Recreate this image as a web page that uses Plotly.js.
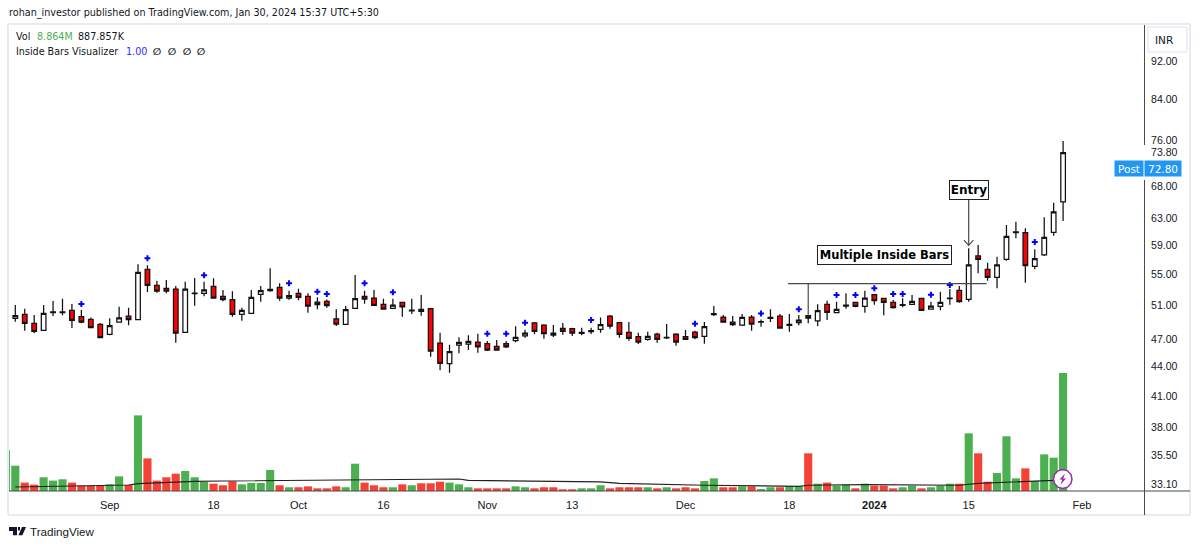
<!DOCTYPE html>
<html><head><meta charset="utf-8">
<script src="https://cdn.plot.ly/plotly-3.0.1.min.js"></script>
<style>html,body{margin:0;padding:0;background:#fff}#c{width:1200px;height:547px}</style>
</head><body><div id="c"></div>
<script>
const openP=[45.09,49.46,49.94,48.88,48.05,50.15,50.15,50.43,49.66,49.33,48.75,47.59,49.0,49.74,49.3,55.68,53.57,53.18,53.09,47.82,52.5,52.55,53.44,52.17,51.74,49.94,50.07,52.42,52.88,53.31,51.95,52.55,52.17,51.43,51.54,49.41,48.75,50.67,52.17,51.95,51.17,50.67,51.41,50.35,50.55,50.63,46.6,44.33,46.37,46.48,46.71,46.52,46.23,46.52,46.86,47.4,48.91,48.67,47.74,48.29,48.24,47.71,47.89,48.17,49.74,48.95,47.82,47.32,47.02,47.62,47.17,47.62,47.32,47.85,47.36,49.9,49.62,49.0,48.67,49.62,49.0,49.45,49.74,48.63,48.95,49.78,49.17,51.17,50.15,50.96,51.41,50.92,52.38,51.91,51.41,51.04,51.17,51.91,50.59,50.92,51.87,52.92,51.78,57.51,55.68,54.62,57.05,60.84,60.84,56.09,57.65,60.9,65.52];
const highP=[49.06,51.08,50.63,49.86,51.08,51.58,51.87,51.2,50.47,49.57,48.91,49.46,50.88,50.75,56.37,56.23,54.17,54.26,53.48,54.04,54.52,54.04,54.48,52.97,52.8,50.75,52.97,53.48,55.83,53.83,52.88,53.14,52.55,52.04,51.78,50.55,50.96,54.92,52.88,52.97,51.87,51.87,51.49,51.87,52.33,50.67,47.78,46.41,47.25,47.47,47.66,46.83,46.94,46.83,48.52,48.13,49.02,48.75,48.67,48.91,48.36,48.36,48.36,49.57,49.86,49.06,49.02,47.78,47.89,47.78,48.79,47.71,48.09,48.01,49.02,50.96,49.86,49.74,49.98,49.86,49.33,50.55,49.98,49.98,49.86,49.86,51.17,51.62,51.49,52.55,51.46,52.88,52.46,51.95,51.7,51.91,52.33,51.99,51.49,52.76,53.09,53.48,58.58,59.06,56.58,57.41,61.98,62.47,61.49,58.44,63.14,65.41,75.93];
const lowP=[45.09,49.06,48.01,47.71,47.98,49.74,49.82,48.32,48.88,48.29,47.13,47.47,48.95,48.63,49.25,52.71,52.63,52.55,46.63,47.78,51.0,52.17,51.87,51.54,49.66,49.17,50.03,51.49,52.76,51.62,51.74,51.66,50.15,50.55,50.75,48.55,48.72,50.63,51.24,51.0,50.55,50.59,49.66,49.98,49.78,45.08,43.63,43.37,45.45,45.82,45.52,45.71,45.74,46.03,46.68,47.2,47.59,47.09,47.28,47.55,47.4,47.47,47.62,47.78,48.24,47.2,46.86,46.48,46.86,46.63,47.05,46.29,46.98,47.02,46.52,49.74,48.95,48.55,48.55,48.01,48.47,49.02,48.24,47.89,48.63,48.88,48.55,49.26,50.12,50.63,50.8,50.15,51.12,49.82,50.63,50.8,51.12,50.39,50.55,50.43,51.12,51.37,51.49,55.15,54.17,53.18,56.86,60.02,53.92,55.68,57.51,60.4,62.58];
const closeP=[49.06,49.78,48.88,47.93,50.07,50.23,50.23,49.22,49.0,48.36,47.2,48.59,49.53,49.3,55.28,53.57,52.84,52.84,47.74,53.09,52.58,52.97,51.95,51.74,49.94,50.43,52.04,52.88,53.05,51.95,52.25,52.04,50.96,51.12,51.0,48.79,50.51,51.87,51.83,51.04,50.59,51.08,50.84,50.47,50.31,45.71,44.37,45.64,46.68,46.8,46.18,45.82,45.82,46.18,47.25,47.74,47.93,47.66,47.51,47.93,47.74,47.82,48.01,48.71,48.55,47.59,47.13,46.71,47.36,47.02,47.25,46.71,47.02,47.2,48.47,50.03,49.0,48.71,49.57,48.79,49.06,49.57,48.32,48.75,49.26,49.5,50.39,50.19,50.55,51.08,50.92,51.95,51.62,51.41,50.75,51.12,51.54,50.43,50.96,51.41,51.95,51.49,56.27,57.05,54.62,56.27,60.31,60.94,56.17,57.15,60.16,63.96,73.8];
const volumeM=[3.06,1.90,.63,.48,1.03,.78,.88,.63,.40,.40,.40,.50,1.10,.45,5.68,2.45,.78,1.03,1.30,1.50,1.03,.68,.55,.43,.73,.50,.60,.60,1.58,.43,.28,.28,.35,.20,.20,.35,.28,2.05,.63,.43,.28,.28,.50,.43,.58,.58,.70,.63,.50,.28,.20,.20,.20,.20,.35,.28,.20,.28,.28,.13,.13,.20,.20,.43,.20,.28,.28,.28,.28,.20,.28,.20,.28,.20,.75,.95,.28,.28,.35,.35,.15,.28,.28,.35,.35,2.83,.55,.63,.40,.48,.20,.55,.40,.40,.20,.28,.40,.20,.28,.40,.55,.55,4.33,2.83,.70,1.35,4.11,.95,1.70,.75,2.75,2.50,8.864];
const volMaIdx=[0,5,10,12,13,16,19,22,30,41,47,48,55,62,64,73,83,84,90,100,102,110,111];
const volMaVal=[.30,.35,.40,.45,.55,.65,.72,.75,.80,.85,.90,.80,.75,.68,.58,.43,.35,.43,.48,.43,.58,.80,.888];
const insideIdx=[7,14,20,29,32,33,37,40,50,52,54,61,72,79,83,87,89,91,93,94,97,99,108];
const insideP=[51.2,57.18,54.88,53.83,52.76,52.46,53.83,52.68,47.66,47.66,48.95,49.26,48.83,50.03,50.55,52.33,52.33,53.2,52.46,52.46,52.37,53.6,59.49];
const priceTicks=[92,84,76,73.8,68,63,59,55,51,47,44,41,38,35.5,33.1];
const priceTickText=["92.00","84.00","76.00","73.80","68.00","63.00","59.00","55.00","51.00","47.00","44.00","41.00","38.00","35.50","33.10"];
const timeTicks=[10,21,30,39,50,59,71,82,91,101,113];
const timeTickText=["Sep","18","Oct","16","Nov","13","Dec","18","<b>2024</b>","15","Feb"];
const idx=openP.map((_,i)=>i-1);
const volColor=openP.map((o,i)=>closeP[i]>=o?"#4caf50":"#f44336");
volColor[108+1]="#4caf50";

const L=9,R=1144,T=25,B=491;
const px=x=>(x-L)/(R-L), py=y=>(B-y)/(B-T);
const pathOf=pts=>pts.map((p,i)=>(i?"L":"M")+px(p[0])+","+py(p[1])).join(" ")+" Z";
const rect=(x0,y0,x1,y1,fill,line,w)=>({type:"rect",xref:"paper",yref:"paper",x0:px(x0),x1:px(x1),y0:py(y0),y1:py(y1),fillcolor:fill,line:{color:line||fill,width:w===undefined?0:w}});
const seg=(x0,y0,x1,y1,c,w)=>({type:"line",xref:"paper",yref:"paper",x0:px(x0),x1:px(x1),y0:py(y0),y1:py(y1),line:{color:c,width:w}});
const txt=(x,y,text,color,size,extra)=>Object.assign({xref:"paper",yref:"paper",x:px(x),y:py(y),text:text,showarrow:false,xanchor:"left",yanchor:"middle",font:{family:"DejaVu Sans",size:size,color:color}},extra||{});

const frameC="#e9ebf3", axC="#4a4a4a", ink="#131722";
const shapes=[
 seg(8,24,1190,24,frameC,2), seg(8,24,8,515,frameC,2), seg(1190,24,1190,515,frameC,2), seg(8,515,1190,515,frameC,2),
 seg(1144.5,25,1144.5,145,axC,1), seg(1144.5,180,1144.5,515,axC,1), seg(9,491,1190,491,axC,1.2),
 rect(1148,27,1187,52,"#ffffff","#e0e3eb",1),
 {type:"line",xref:"x",yref:"y2",x0:81.85,x1:102.9,y0:53.78,y1:53.78,line:{color:axC,width:1.2}},
 {type:"line",xref:"x",yref:"y2",x0:84,x1:84,y0:53.78,y1:49.9,line:{color:axC,width:1.2}},
 {type:"line",xref:"x",yref:"y2",x0:101,x1:101,y0:65.95,y1:59.0,line:{color:axC,width:1.2}},
 {type:"path",xref:"paper",yref:"paper",path:pathOf([[1053.4,479],[1054.5,474.5],[1058,470.8],[1062.7,469.6],[1067.5,470.8],[1071,474.5],[1072,479],[1071,483.5],[1067.5,487.2],[1062.7,488.4],[1058,487.2],[1054.5,483.5]]),fillcolor:"#ffffff",line:{color:"#9c27b0",width:1.5}},
 {type:"path",xref:"paper",yref:"paper",path:pathOf([[1065,473.5],[1059.5,479.6],[1062.3,479.6],[1060.5,484.8],[1066,478.4],[1063.2,478.4]]),fillcolor:"#9c27b0",line:{width:0}},
 {type:"path",xref:"paper",yref:"paper",path:pathOf([[9,527],[17,527],[17,535.3],[13,535.3],[13,531],[9,531]]),fillcolor:ink,line:{width:0}},
 {type:"path",xref:"paper",yref:"paper",path:pathOf([[18,527],[20,527],[20,530.5],[18,530.5]]),fillcolor:ink,line:{width:0}},
 {type:"path",xref:"paper",yref:"paper",path:pathOf([[22,527],[26,527],[22.4,535.3],[18.4,535.3]]),fillcolor:ink,line:{width:0}}
];
const nul={family:"DejaVu Sans",size:9.6,color:ink,weight:700};
const annotations=[
 txt(7,13,"rohan_investor published on TradingView.com, Jan 30, 2024 15:37 UTC+5:30",ink,9.65),
 txt(14,36,"Vol",ink,9.6), txt(35,36,"8.864M","#4caf50",9.6), txt(76,36,"887.857K",ink,9.6),
 txt(14,52,"Inside Bars Visualizer",ink,9.6), txt(124,52,"1.00","#2b2bff",9.6),
 txt(151,52,"∅",ink,9.6,{font:nul}), txt(166,52,"∅",ink,9.6,{font:nul}), txt(181,52,"∅",ink,9.6,{font:nul}), txt(195,52,"∅",ink,9.6,{font:nul}),
 txt(1164,40,"INR",ink,10.5,{xanchor:"center"}),
 txt(1129,168,"Post","#ffffff",10.5,{xanchor:"center",bgcolor:"#2196f3",width:28,height:15,borderpad:0}),
 txt(1163,168,"72.80","#ffffff",10.5,{xanchor:"center",bgcolor:"#2196f3",width:36,height:15,borderpad:0}),
 txt(884.5,255,"Multiple Inside Bars","#000000",11.5,{xanchor:"center",bgcolor:"#ffffff",bordercolor:"#222",borderwidth:1,width:133,height:18,borderpad:0,font:{family:"DejaVu Sans",size:11.5,color:"#000",weight:700}}),
 txt(969,189.5,"Entry","#000000",12,{xanchor:"center",bgcolor:"#ffffff",bordercolor:"#222",borderwidth:1,width:38,height:18,borderpad:0,font:{family:"DejaVu Sans",size:12,color:"#000",weight:700}}),
 txt(28,531,"TradingView",ink,11.5,{font:{family:"Liberation Sans",size:11.6,color:ink}})
];
const data=[
 {type:"bar",x:idx,y:volumeM,marker:{color:volColor,line:{width:0}},yaxis:"y",xaxis:"x",hoverinfo:"skip",showlegend:false},
 {type:"scatter",mode:"lines",x:volMaIdx,y:volMaVal,line:{color:"#222",width:1.2},yaxis:"y",xaxis:"x",hoverinfo:"skip",showlegend:false},
 {type:"candlestick",x:idx,open:openP,high:highP,low:lowP,close:closeP,whiskerwidth:0,yaxis:"y2",xaxis:"x",
  increasing:{line:{color:"#111",width:1.25},fillcolor:"#ffffff"},
  decreasing:{line:{color:"#111",width:1.25},fillcolor:"#ff0000"},hoverinfo:"skip",showlegend:false},
 {type:"scatter",mode:"markers",x:insideIdx,y:insideP,marker:{symbol:"cross",size:5,color:"#0000ff",line:{width:0}},yaxis:"y2",xaxis:"x",hoverinfo:"skip",showlegend:false},
 {type:"scatter",mode:"lines",x:[100.5,101,101.5],y:[59.75,59.0,59.75],line:{color:axC,width:1.2},yaxis:"y2",xaxis:"x",hoverinfo:"skip",showlegend:false}
];
const layout={
 width:1200,height:547,margin:{l:L,r:1200-R,t:T,b:547-B,pad:0},paper_bgcolor:"#fff",plot_bgcolor:"#fff",showlegend:false,bargap:0.14,boxgap:0.3,dragmode:false,
 xaxis:{type:"linear",range:[-0.667,119.57],rangeslider:{visible:false},showgrid:false,zeroline:false,showline:false,tickmode:"array",tickvals:timeTicks,ticktext:timeTickText,ticks:"outside",ticklen:4,tickcolor:"rgba(0,0,0,0)",tickfont:{family:"Liberation Sans",size:11,color:ink}},
 yaxis:{range:[0,35],visible:false,showgrid:false,zeroline:false},
 yaxis2:{type:"log",overlaying:"y",side:"right",anchor:"x",range:[1.5131,2.0021],showgrid:false,zeroline:false,showline:false,tickmode:"array",tickvals:priceTicks,ticktext:priceTickText,ticks:"outside",ticklen:4,tickcolor:"rgba(0,0,0,0)",tickfont:{family:"Liberation Sans",size:10.5,color:ink}},
 shapes:shapes,annotations:annotations
};
Plotly.newPlot("c",data,layout,{displayModeBar:false,staticPlot:true});
</script></body></html>
